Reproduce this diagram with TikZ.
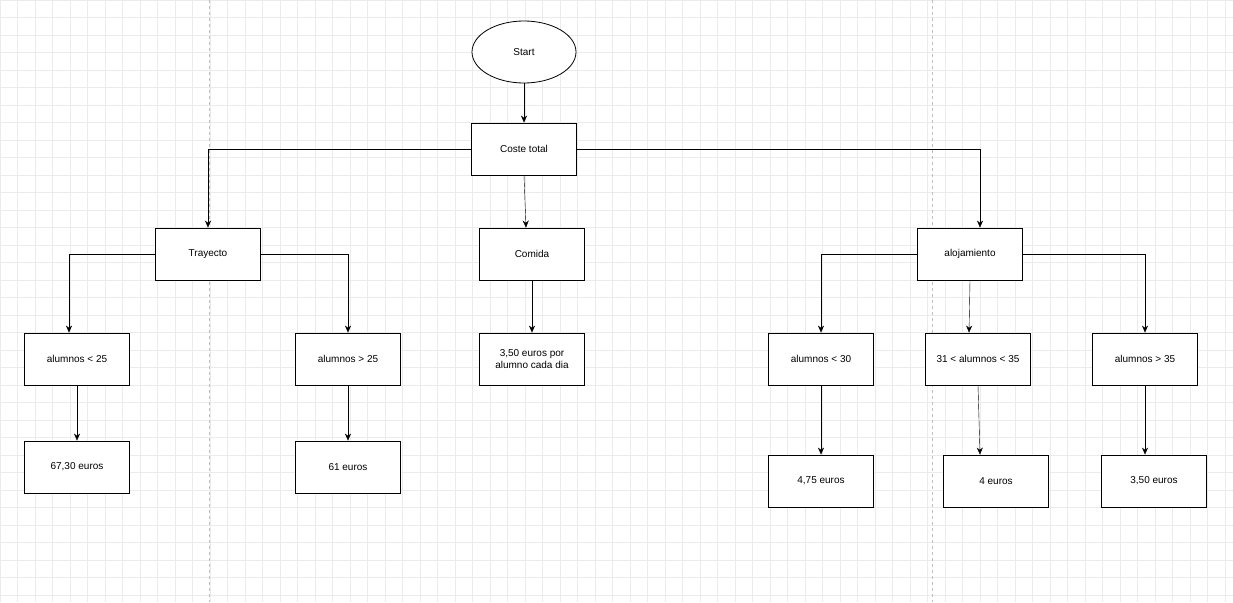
\documentclass[tikz,border=0pt]{standalone}
\usepackage{fontspec}
\setmainfont{Liberation Sans}
\usetikzlibrary{shapes.geometric,arrows.meta}
\begin{document}
\begin{tikzpicture}[x=1pt,y=-1pt,
  box/.style={draw,thick,fill=white,minimum width=105pt,minimum height=52pt,inner sep=0pt,align=center,font=\fontsize{10}{12}\selectfont},
  conn/.style={draw,-{Stealth[length=7pt,width=6pt]}}]
\useasboundingbox (0,0) rectangle (1233,602);
\fill[white] (0,0) rectangle (1233,602);
\foreach \x in {0,17.5,...,1233} \draw[black!8] (\x,0) -- (\x,602);
\foreach \y in {0,17.5,...,602} \draw[black!8] (0,\y) -- (1233,\y);
\draw[black!25,dashed] (209,0) -- (209,602);
\draw[black!25,dashed] (932,0) -- (932,602);
\node[draw,thick,fill=white,ellipse,minimum width=104pt,minimum height=62pt,font=\fontsize{10}{12}\selectfont] (start) at (524,52) {Start};
\node[box] (coste) at (524,149) {Coste total};
\node[box] (tray) at (208,254) {Trayecto};
\node[box] (com) at (532,254) {Comida};
\node[box] (aloj) at (970,254) {alojamiento};
\node[box] (a25) at (77,359) {alumnos < 25};
\node[box] (b25) at (348,359) {alumnos > 25};
\node[box] (cpa) at (532,359) {3,50 euros por\\alumno cada dia};
\node[box] (a30) at (821,359) {alumnos < 30};
\node[box] (m35) at (978,359) {31 < alumnos < 35};
\node[box] (b35) at (1145,359) {alumnos > 35};
\node[box] (e67) at (77,467) {67,30 euros};
\node[box] (e61) at (348,467) {61 euros};
\node[box] (e475) at (821,481) {4,75 euros};
\node[box] (e4) at (996,481) {4 euros};
\node[box] (e350) at (1154,481) {3,50 euros};
\draw[conn] (start) -- (coste);
\draw[conn] (coste.west) -| (tray.north);
\draw[conn] (coste.east) -| ([xshift=10pt]aloj.north);
\draw[conn] (coste.south) -- (com.north -| 526,0);
\draw[conn] (tray.west) -| ([xshift=-8pt]a25.north);
\draw[conn] (tray.east) -| (b25.north);
\draw[conn] (com.south) -- (cpa.north);
\draw[conn] (aloj.west) -| (a30.north);
\draw[conn] (aloj.south) -- ([xshift=-9pt]m35.north);
\draw[conn] (aloj.east) -| (b35.north);
\draw[conn] (a25.south) -- (e67.north);
\draw[conn] (b25.south) -- (e61.north);
\draw[conn] (a30.south) -- (e475.north);
\draw[conn] (m35.south) -- ([xshift=-16pt]e4.north);
\draw[conn] (b35.south) -- ([xshift=-9pt]e350.north);
\end{tikzpicture}
\end{document}
